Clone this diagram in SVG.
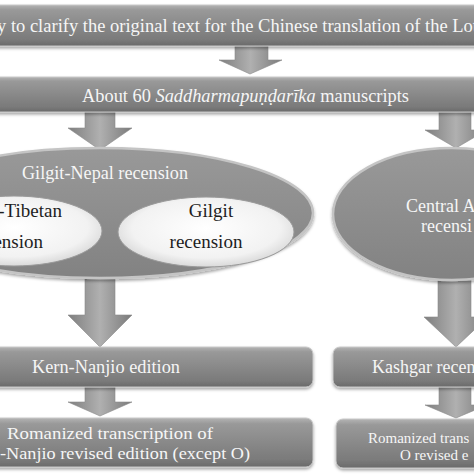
<svg xmlns="http://www.w3.org/2000/svg" width="474" height="474" viewBox="0 0 474 474">
  <defs>
    <linearGradient id="barGrad" x1="0" y1="0" x2="0" y2="1">
      <stop offset="0" stop-color="#b4b4b4"/>
      <stop offset="0.12" stop-color="#999999"/>
      <stop offset="0.85" stop-color="#7a7a7a"/>
      <stop offset="1" stop-color="#6a6a6a"/>
    </linearGradient>
    <linearGradient id="arrowGrad" x1="0" y1="0" x2="1" y2="0">
      <stop offset="0" stop-color="#7e7e7e"/>
      <stop offset="0.5" stop-color="#b0b0b0"/>
      <stop offset="1" stop-color="#7a7a7a"/>
    </linearGradient>
    <linearGradient id="ellGrad" x1="0" y1="0" x2="0" y2="1">
      <stop offset="0" stop-color="#999999"/>
      <stop offset="1" stop-color="#828282"/>
    </linearGradient>
    <radialGradient id="innerGrad" cx="0.5" cy="0.45" r="0.6">
      <stop offset="0" stop-color="#ffffff"/>
      <stop offset="0.7" stop-color="#f2f2f2"/>
      <stop offset="1" stop-color="#d0d0d0"/>
    </radialGradient>
    <filter id="shadow" x="-10%" y="-20%" width="120%" height="150%">
      <feDropShadow dx="0" dy="2" stdDeviation="1.5" flood-color="#000" flood-opacity="0.35"/>
    </filter>
  </defs>
  <style>
    .bar { fill: url(#barGrad); stroke: #c8c8c8; stroke-width: 1; filter: url(#shadow); }
    .arrow { fill: url(#arrowGrad); stroke: #8a8a8a; stroke-width: 0.6; }
    .big { fill: url(#ellGrad); stroke: #c4c4c4; stroke-width: 2.5; filter: url(#shadow); }
    .inner { fill: url(#innerGrad); stroke: #9a9a9a; stroke-width: 1; }
    text { font-family: Liberation Serif, DejaVu Serif, Times New Roman, serif; }
    .t { fill: #f6f6f6; }
    .dark { fill: #1e1e1e; }
  </style>

  <g id="connectors">
    <path class="arrow" d="M235,44 H268 V60 H282 L250,74 L219,60 H235 Z"/>
    <path class="arrow" d="M85,110 H115 V128 H132 L100,150 L68,128 H85 Z"/>
    <path class="arrow" d="M439,110 H471 V130 H487 L456,148 L425,130 H439 Z"/>
    <path class="arrow" d="M85,275 H115 V315 H132 L100,347 L68,315 H85 Z"/>
    <path class="arrow" d="M438,275 H471 V317 H488 L456,347 L424,317 H438 Z"/>
    <path class="arrow" d="M85,385 H115 V402 H132 L100,416 L68,402 H85 Z"/>
    <path class="arrow" d="M439,385 H471 V405 H487 L456,418 L425,405 H439 Z"/>
  </g>

  <g id="goal">
    <rect class="bar" x="-10" y="5" width="494" height="41" rx="6"/>
    <text class="t" x="-3" y="32" font-size="19" textLength="481" lengthAdjust="spacingAndGlyphs">y to clarify the original text for the Chinese translation of the Lot</text>
  </g>

  <g id="manuscripts">
    <rect class="bar" x="-10" y="77" width="494" height="35" rx="6"/>
    <text class="t" x="82" y="102" font-size="18" textLength="327" lengthAdjust="spacingAndGlyphs">About 60 <tspan font-style="italic">Saddharmapuṇḍarīka</tspan> manuscripts</text>
  </g>

  <g id="gilgit-nepal">
    <ellipse class="big" cx="100" cy="213" rx="213" ry="65"/>
    <text class="t" x="22" y="179" font-size="18" fill="#ececec" textLength="166" lengthAdjust="spacingAndGlyphs">Gilgit-Nepal recension</text>
  </g>

  <g id="nepal-tibetan">
    <ellipse class="inner" cx="14" cy="231" rx="88" ry="35"/>
    <text class="dark" x="62" y="217" font-size="19" text-anchor="end">-Tibetan</text>
    <text class="dark" x="43" y="248" font-size="19" text-anchor="end">ension</text>
  </g>

  <g id="gilgit">
    <ellipse class="inner" cx="206" cy="232" rx="88" ry="35"/>
    <text class="dark" x="211" y="217" font-size="19" text-anchor="middle">Gilgit</text>
    <text class="dark" x="206" y="248" font-size="19" text-anchor="middle">recension</text>
  </g>

  <g id="central-asian">
    <ellipse class="big" cx="452" cy="214" rx="119" ry="66"/>
    <text class="t" x="406" y="212" font-size="18">Central A</text>
    <text class="t" x="421" y="232" font-size="18">recensi</text>
  </g>

  <g id="kern-nanjio">
    <rect class="bar" x="-10" y="347" width="323" height="40" rx="7"/>
    <text class="t" x="32" y="373" font-size="18" textLength="148" lengthAdjust="spacingAndGlyphs">Kern-Nanjio edition</text>
  </g>

  <g id="kashgar">
    <rect class="bar" x="333" y="347" width="160" height="40" rx="7"/>
    <text class="t" x="372" y="373" font-size="18">Kashgar recen</text>
  </g>

  <g id="romanized-kn">
    <rect class="bar" x="-10" y="418" width="323" height="49" rx="7"/>
    <text class="t" x="7" y="439" font-size="17" textLength="206" lengthAdjust="spacingAndGlyphs">Romanized transcription of</text>
    <text class="t" x="0" y="459" font-size="17" textLength="250" lengthAdjust="spacingAndGlyphs">-Nanjio revised edition (except O)</text>
  </g>

  <g id="romanized-o">
    <rect class="bar" x="336" y="419" width="160" height="49" rx="7"/>
    <text class="t" x="368" y="443" font-size="15">Romanized trans</text>
    <text class="t" x="400" y="460" font-size="15">O revised e</text>
  </g>
</svg>
